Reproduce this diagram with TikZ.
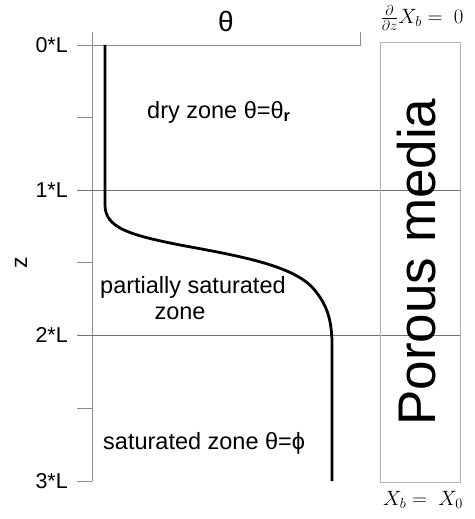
\documentclass[tikz,border=0pt]{standalone}
\usepackage{fontspec}
\setmainfont{Liberation Sans}
\begin{document}
\begin{tikzpicture}[x=1pt,y=-1pt,
  axis/.style={draw=black!45,line width=0.9pt},
  grid/.style={draw=black!55,line width=0.8pt},
  boxline/.style={draw=black!30,line width=1.1pt},
  curve/.style={draw=black,line width=2.8pt},
  lab/.style={font=\fontsize{21.5}{24}\selectfont,anchor=east,inner sep=0pt},
  zone/.style={font=\fontsize{23.5}{26}\selectfont,inner sep=0pt}]
\useasboundingbox (0,0) rectangle (474,519);
% axes
\coordinate (o) at (92,45);
\draw[axis] (92,32) -- (92,481);
\draw[axis] (77,45) -- (360,45) -- (360,32);
\foreach \y in {117,262,408,481} \draw[axis] (77,\y) -- (92,\y);
% grid lines at 1L, 2L
\draw[grid] (77,190) -- (460,190);
\draw[grid] (77,335) -- (460,335);
% porous box
\node[boxline,minimum width=80pt,minimum height=440pt,inner sep=0pt,anchor=north west] (box) at (380,42) {};
\node[rotate=90,font=\fontsize{53}{56}\selectfont,inner sep=0pt] (pm) at (417,262) {Porous media};
% curve
\draw[curve] (105,45) -- (105,205) .. controls (105,228) and (130,235) .. (180,245)
  .. controls (240,256) and (290,265) .. (312,287)
  .. controls (328,305) and (331,320) .. (332,340) -- (332,481);
% labels
\node[font=\fontsize{28}{30}\selectfont,inner sep=0pt] (th) at (226,21) {θ};
\node[lab] (l0) at (68,45) {0*L};
\node[lab] (l1) at (68,190) {1*L};
\node[lab] (l2) at (68,335) {2*L};
\node[lab] (l3) at (68,481) {3*L};
\node[rotate=90,font=\fontsize{23}{26}\selectfont,inner sep=0pt] (z) at (21,263) {z};
\node[zone,anchor=west] (dry) at (147,112) {dry zone θ=θ\textsubscript{\textbf{r}}};
\node[zone,anchor=west] (ps) at (100,287) {partially saturated};
\node[zone] (psz) at (180,313) {zone};
\node[zone,anchor=west] (sat) at (103,443) {saturated zone θ=ϕ};
\node[inner sep=0pt,font=\fontsize{20}{22}\selectfont] (tbc) at (422,18) {$\frac{\partial}{\partial z}X_b =\ 0$};
\node[inner sep=0pt,font=\fontsize{20}{22}\selectfont] (bbc) at (423,500) {$X_b =\ X_0$};
\end{tikzpicture}
\end{document}
